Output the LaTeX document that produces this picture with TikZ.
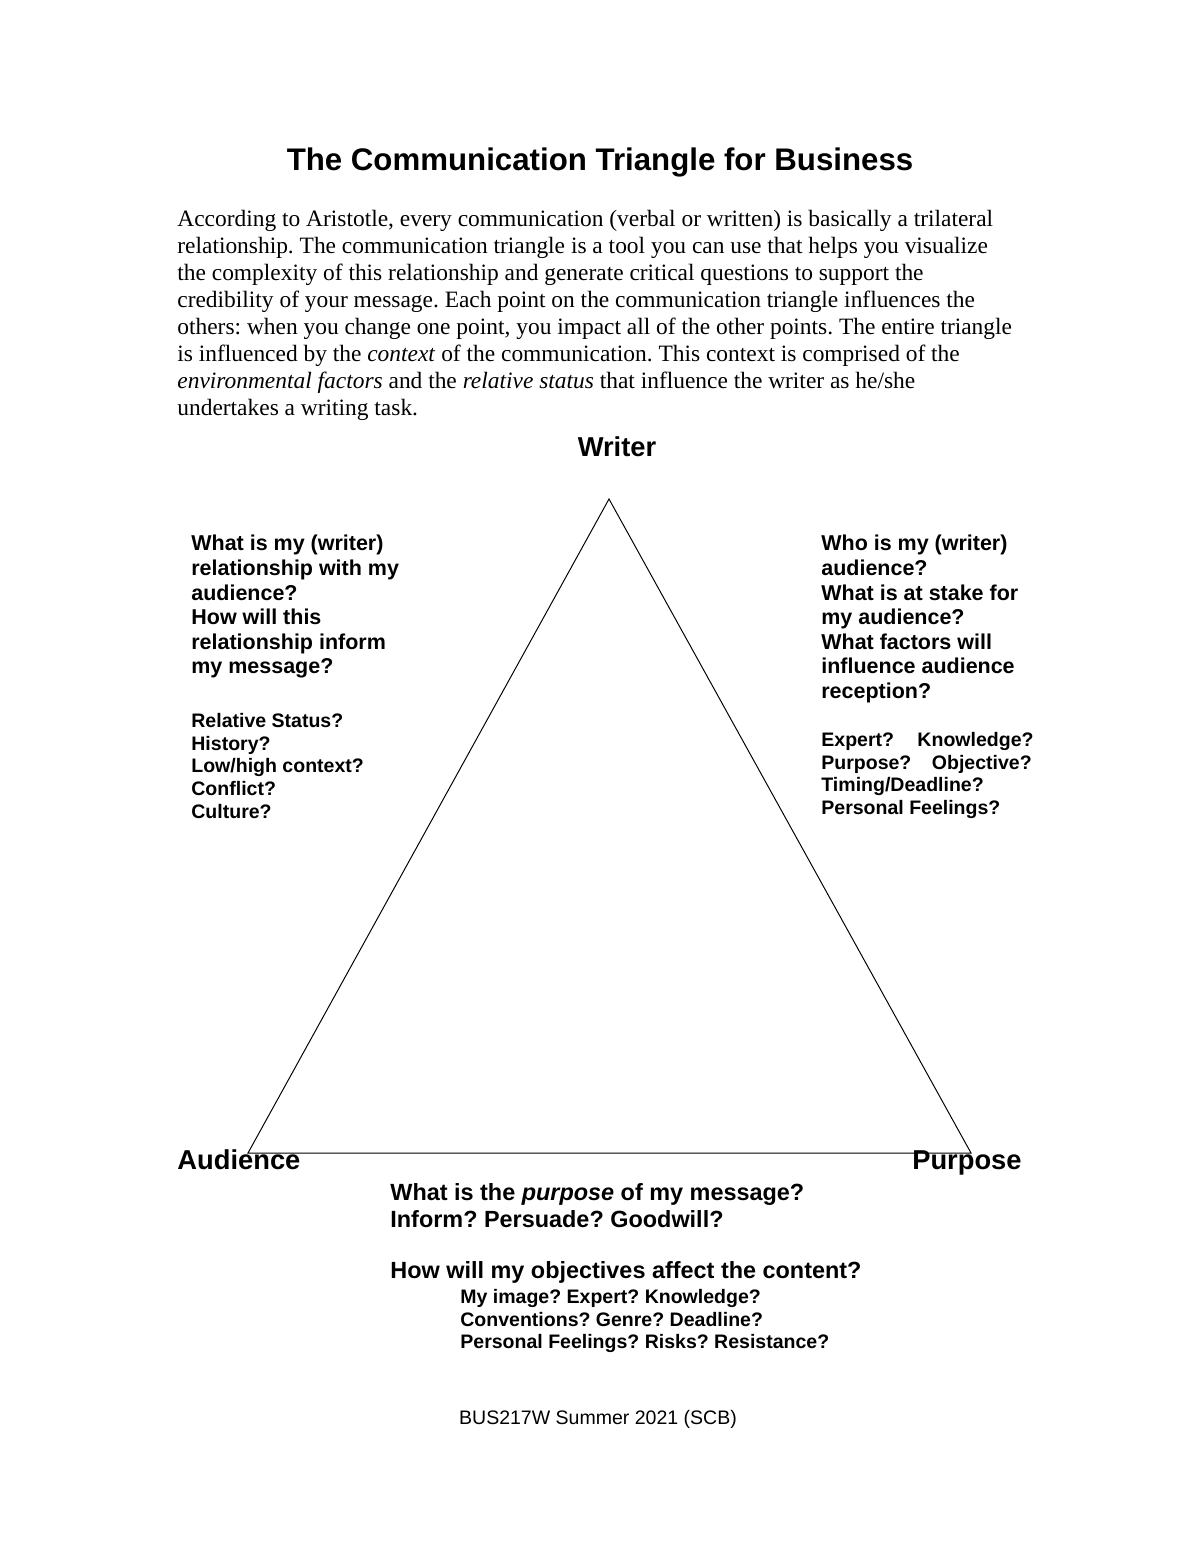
\documentclass[tikz,border=0pt]{standalone}
\usepackage{fontspec}
\setmainfont{Liberation Serif}
\setsansfont{Liberation Sans}
\frenchspacing
\tikzset{
  corner/.style={inner sep=0,font=\sffamily\bfseries\fontsize{14}{16}\selectfont},
  question/.style={inner sep=0,anchor=north west,align=left,font=\sffamily\bfseries\fontsize{11}{12.6}\selectfont},
  factor/.style={inner sep=0,anchor=north west,align=left,font=\sffamily\bfseries\fontsize{10}{11.6}\selectfont},
  bigquestion/.style={inner sep=0,anchor=north west,align=left,font=\sffamily\bfseries\fontsize{12}{13.8}\selectfont}
}
\begin{document}
\begin{tikzpicture}[x=0.018cm,y=-0.018cm]
                \path[use as bounding box,fill=white] (0,0) rectangle (1200,1553);
                \node[inner sep=0,anchor=base,font=\sffamily\bfseries\fontsize{16}{19}\selectfont] (title) at (600,170) {The Communication Triangle for Business};
                \node[inner sep=0,anchor=north west,align=left,font=\fontsize{12}{13.8}\selectfont] (intro) at (177,210) {According to Aristotle, every communication (verbal or written) is basically a trilateral\\relationship. The communication triangle is a tool you can use that helps you visualize\\the complexity of this relationship and generate critical questions to support the\\credibility of your message. Each point on the communication triangle influences the\\others: when you change one point, you impact all of the other points. The entire triangle\\is influenced by the \textit{context} of the communication. This context is comprised of the\\\textit{environmental factors} and the \textit{relative status} that influence the writer as he/she\\undertakes a writing task.};
                % the triangle
                \coordinate (W) at (609,499);
                \coordinate (A) at (248,1153);
                \coordinate (P) at (971,1153);
                \draw[line width=0.5pt] (W) -- (A) -- (P) -- cycle;
                \node[corner,anchor=base] (writer) at (617,456) {Writer};
                \node[corner,anchor=base west] (audience) at (177,1169) {Audience};
                \node[corner,anchor=base east] (purpose) at (1022,1169) {Purpose};
                % writer side
                \node[question] (writerq) at (191,535) {What is my (writer)\\relationship with my\\audience?\\How will this\\relationship inform\\my message?};
                \node[factor] (writerf) at (191,713) {Relative Status?\\History?\\Low/high context?\\Conflict?\\Culture?};
                % audience side
                \node[question] (audienceq) at (821,535) {Who is my (writer)\\audience?\\What is at stake for\\my audience?\\What factors will\\influence audience\\reception?};
                \node[factor] (audiencef) at (821,732) {Expert?\hspace{12pt}Knowledge?\\Purpose?\hspace{10.5pt}Objective?\\Timing/Deadline?\\Personal Feelings?};
                % purpose side
                \node[bigquestion] (purposeq) at (390,1183) {What is the \textit{purpose} of my message?\\Inform? Persuade? Goodwill?};
                \node[bigquestion,anchor=base west] (objq) at (390,1278) {How will my objectives affect the content?};
                \node[factor] (objf) at (460,1289) {My image? Expert? Knowledge?\\Conventions? Genre? Deadline?\\Personal Feelings? Risks? Resistance?};
                \node[inner sep=0,anchor=base,font=\sffamily\fontsize{10}{12}\selectfont] (footer) at (598,1424) {BUS217W Summer 2021 (SCB)};
            \end{tikzpicture}
\end{document}
